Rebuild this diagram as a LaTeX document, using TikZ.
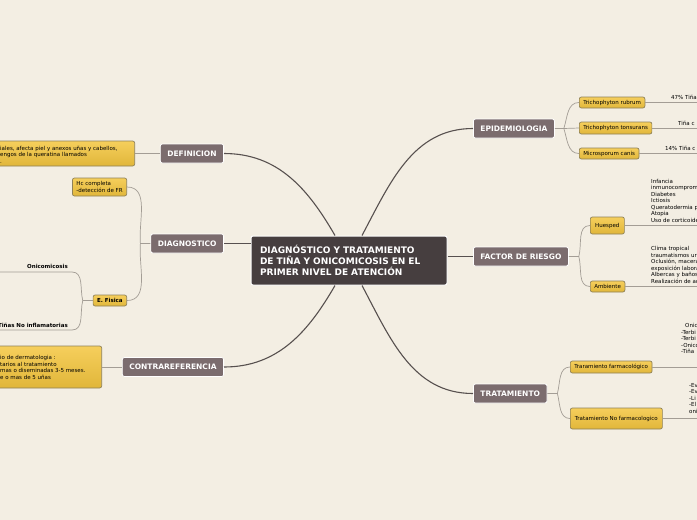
\documentclass[tikz,border=0pt]{standalone}
\usepackage{fontspec}
\setmainfont{DejaVu Sans}
\usepackage{tikz}
\usetikzlibrary{positioning,calc}

\definecolor{bgcol}{HTML}{F3EEE3}
\definecolor{cdark}{HTML}{463E3F}
\definecolor{ctopic}{HTML}{7B6C6E}
\definecolor{cyellow}{HTML}{F4C63F}
\definecolor{cyborder}{HTML}{8E8158}
\definecolor{clink}{HTML}{57504F}
\definecolor{cgrey}{HTML}{A39D95}

\newcommand{\centrefont}{\bfseries\fontsize{9}{11}\selectfont}
\newcommand{\topicfont}{\bfseries\fontsize{7.5}{8.5}\selectfont}
\newcommand{\leaffont}{\fontsize{5.5}{6.5}\selectfont}
\newcommand{\notefont}{\fontsize{5.5}{6.5}\selectfont}

\begin{document}
\begin{tikzpicture}[
			x = 1pt, y = 1pt,
			centre/.style = {fill = cdark, draw = white, line width = 1pt, rounded corners = 2pt,
				text = white, font = \centrefont, align = left, text width = 178pt,
				inner xsep = 9pt, minimum height = 49pt},
			topic/.style = {fill = ctopic, draw = white, line width = 0.8pt, rounded corners = 2pt,
				text = white, font = \topicfont, minimum height = 19pt, inner xsep = 7pt},
			leaf/.style = {top color = cyellow!85!white, bottom color = cyellow!92!black,
				draw = cyborder, line width = 0.7pt, rounded corners = 2pt,
				font = \leaffont, align = left, inner xsep = 4pt, inner ysep = 1pt, minimum height = 11pt},
			note/.style = {font = \notefont, align = left, inner sep = 0pt},
			mainlink/.style = {draw = clink, line width = 1.1pt},
			sublink/.style = {draw = cgrey, line width = 0.7pt}
			]

			\fill[bgcol] (0,-520) rectangle (697,0);
			\useasboundingbox (0,-520) rectangle (697,0);
			\coordinate (rim) at (698,0);
			\coordinate (lim) at (-1,0);

			\node[centre] (c) at (349,-260.5) {DIAGNÓSTICO Y TRATAMIENTO\\DE TIÑA Y ONICOMICOSIS EN EL\\PRIMER NIVEL DE ATENCIÓN};

			\node[topic, anchor = east] (def) at (224,-153.5) {DEFINICION};
			\node[topic, anchor = east] (diag) at (224,-243.5) {DIAGNOSTICO};
			\node[topic, anchor = east] (contra) at (224,-367) {CONTRAREFERENCIA};
			\node[topic, anchor = west] (epi) at (473,-128.5) {EPIDEMIOLOGIA};
			\node[topic, anchor = west] (fac) at (473,-256.5) {FACTOR DE RIESGO};
			\node[topic, anchor = west] (trat) at (473,-393.5) {TRATAMIENTO};

			\draw[mainlink] ([xshift = 13pt]c.north) to[out = 62, in = 180] (epi.west);
			\draw[mainlink] (def.east) to[out = 0, in = 120] ([xshift = -14pt]c.north);
			\draw[mainlink] (diag.east) -- (diag.east -| c.west);
			\draw[mainlink] (contra.east) to[out = 0, in = 240] ([xshift = -14pt]c.south);
			\draw[mainlink] (c.east |- fac.west) -- (fac.west);
			\draw[mainlink] ([xshift = 13pt]c.south) to[out = -62, in = 180] (trat.west);

			% epidemiologia
			\node[leaf, anchor = west] (rub) at (579,-102.5) {Trichophyton rubrum};
			\node[leaf, anchor = west, minimum height = 12pt] (ton) at (579,-128) {Trichophyton tonsurans};
			\node[leaf, anchor = west] (can) at (579,-153.5) {Microsporum canis};
			\coordinate (epib) at ([xshift = 9pt]epi.east);
			\draw[sublink] (epi.east) -- (epib) to[out = 72, in = 180] (rub.west);
			\draw[sublink] (epib) -- (ton.west);
			\draw[sublink] (epib) to[out = -72, in = 180] (can.west);
			\draw[sublink] (rub.east) -- (rub.east -| rim);
			\draw[sublink] (ton.east) -- (ton.east -| rim);
			\draw[sublink] (can.east) -- (can.east -| rim);
			\node[note, anchor = west] (rubnote) at (671,-97) {47\% Tiña};
			\node[note, anchor = west] (tonnote) at (678,-123) {Tiña c};
			\node[note, anchor = west] (cannote) at (665,-148) {14\% Tiña c};

			% factor de riesgo
			\node[leaf, anchor = west, minimum width = 34pt, minimum height = 17pt] (hues) at (590,-225.5) {Huesped};
			\node[leaf, anchor = west, minimum width = 34pt] (amb) at (590,-286.5) {Ambiente};
			\coordinate (facb) at ([xshift = 10pt]fac.east);
			\draw[sublink] (fac.east) -- (facb) to[out = 75, in = 180] (hues.west);
			\draw[sublink] (facb) to[out = -75, in = 180] (amb.west);
			\draw[sublink] (hues.east) -- (hues.east -| rim);
			\draw[sublink] (amb.east) -- (amb.east -| rim);
			\node[note, anchor = west] (huesnote) at (651,-200.5) {Infancia\\inmunocomprom\\Diabetes\\Ictiosis\\Queratodermia p\\Atopia\\Uso de corticoide};
			\node[note, anchor = west] (ambnote) at (651,-265) {Clima tropical\\traumatismos ur\\Oclusión, macera\\exposición labora\\Albercas y baños\\Realización de ac};

			% tratamiento
			\node[leaf, anchor = west, minimum height = 12pt] (farm) at (570,-367) {Traramiento farmacológico};
			\node[leaf, anchor = west, minimum width = 92pt, minimum height = 21pt] (nofarm) at (570,-418.5) {Tratamiento No farmacologico};
			\coordinate (tratb) at ([xshift = 10pt]trat.east);
			\draw[sublink] (trat.east) -- (tratb) to[out = 75, in = 180] (farm.west);
			\draw[sublink] (tratb) to[out = -75, in = 180] (nofarm.west);
			\draw[sublink] (farm.east) -- (farm.east -| rim);
			\draw[sublink] (nofarm.east) -- (nofarm.east -| rim);
			\node[note, anchor = west] (farmnote) at (681,-338.5) {\hspace*{4pt}Onic\\-Terbi\\-Terbi\\-Onico\\-Tiña};
			\node[note, anchor = west] (nofarmnote) at (689,-398.5) {-Ev\\-Ev\\-Li\\-El\\oni};

			% definicion
			\node[leaf, anchor = east, minimum width = 150pt, minimum height = 25pt] (defbox) at (135,-153.5) {};
			\node[note, anchor = west] (deftext) at (0,-154.5) {iales, afecta piel y anexos uñas y cabellos,\\engos de la queratina llamados\\.};
			\draw[sublink] (defbox.east) -- (def.west);

			% diagnostico
			\node[leaf, anchor = east, minimum height = 18pt] (hc) at (127,-187) {Hc completa\\-detección de FR};
			\node[leaf, anchor = east, font = \leaffont\bfseries] (efis) at (127,-300.5) {E. Fisica};
			\coordinate (diagb) at ([xshift = -10pt]diag.west);
			\draw[sublink] (diag.west) -- (diagb) to[out = 95, in = 0] (hc.east);
			\draw[sublink] (diagb) to[out = -95, in = 0] (efis.east);

			\coordinate (efisb) at ([xshift = -10pt]efis.west);
			\coordinate (onicknee) at (72,-272);
			\coordinate (tinknee) at (72,-330);
			\draw[sublink] (efis.west) -- (efisb) to[out = 105, in = 0] (onicknee) -- (onicknee -| lim);
			\draw[sublink] (efisb) to[out = -105, in = 0] (tinknee) -- (tinknee -| lim);
			\node[note, font = \notefont\bfseries, anchor = east] (onic) at (68,-266) {Onicomicosis};
			\node[note, font = \notefont\bfseries, anchor = east] (tin) at (68,-325) {Tiñas No inflamatorias};

			% contrareferencia
			\node[leaf, anchor = east, minimum width = 115pt, minimum height = 42pt] (contrabox) at (102,-367) {};
			\node[note, anchor = west] (contratext) at (0,-367.5) {io de dermatologia :\\tarios al tratamiento\\mas o diseminadas 3-5 meses.\\e o mas de 5 uñas};
			\draw[sublink] (contrabox.east) -- (contra.west);

		\end{tikzpicture}
\end{document}
